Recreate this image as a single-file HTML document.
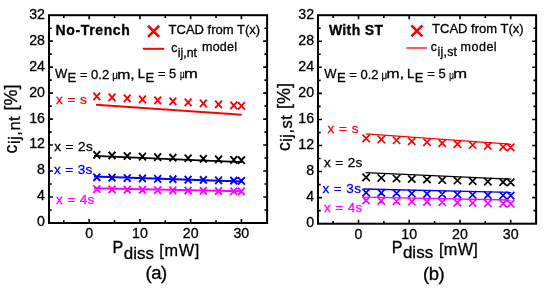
<!DOCTYPE html><html><head><meta charset="utf-8"><title>Coupling coefficient vs dissipated power</title><style>html,body{margin:0;padding:0;background:#fff;overflow:hidden}svg{display:block}</style></head><body>
<svg width="550" height="289" viewBox="0 0 550 289" font-family='"Liberation Sans", Arial, Helvetica, sans-serif' stroke-width="0.3">
<rect width="550" height="289" fill="#fff"/>
<rect x="49" y="15.2" width="218.1" height="207.8" fill="none" stroke="#000" stroke-width="2"/>
<path d="M49 210.01h2.7M267.1 210.01h-2.7M49 197.02h3.9M267.1 197.02h-3.9M49 184.04h2.7M267.1 184.04h-2.7M49 171.05h3.9M267.1 171.05h-3.9M49 158.06h2.7M267.1 158.06h-2.7M49 145.07h3.9M267.1 145.07h-3.9M49 132.08h2.7M267.1 132.08h-2.7M49 119.1h3.9M267.1 119.1h-3.9M49 106.11h2.7M267.1 106.11h-2.7M49 93.12h3.9M267.1 93.12h-3.9M49 80.13h2.7M267.1 80.13h-2.7M49 67.14h3.9M267.1 67.14h-3.9M49 54.16h2.7M267.1 54.16h-2.7M49 41.17h3.9M267.1 41.17h-3.9M49 28.18h2.7M267.1 28.18h-2.7M63.84 223v-2.7M63.84 15.2v2.7M89.2 223v-4M89.2 15.2v4M114.56 223v-2.7M114.56 15.2v2.7M139.93 223v-4M139.93 15.2v4M165.3 223v-2.7M165.3 15.2v2.7M190.66 223v-4M190.66 15.2v4M216.03 223v-2.7M216.03 15.2v2.7M241.39 223v-4M241.39 15.2v4" stroke="#000" stroke-width="1.6" fill="none"/>
<text x="45" y="226.4" text-anchor="end" font-size="14.2" stroke="#000">0</text>
<text x="45" y="200.42" text-anchor="end" font-size="14.2" stroke="#000">4</text>
<text x="45" y="174.45" text-anchor="end" font-size="14.2" stroke="#000">8</text>
<text x="45" y="148.47" text-anchor="end" font-size="14.2" stroke="#000">12</text>
<text x="45" y="122.5" text-anchor="end" font-size="14.2" stroke="#000">16</text>
<text x="45" y="96.52" text-anchor="end" font-size="14.2" stroke="#000">20</text>
<text x="45" y="70.54" text-anchor="end" font-size="14.2" stroke="#000">24</text>
<text x="45" y="44.57" text-anchor="end" font-size="14.2" stroke="#000">28</text>
<text x="45" y="18.59" text-anchor="end" font-size="14.2" stroke="#000">32</text>
<text x="89.2" y="238" text-anchor="middle" font-size="14.2" stroke="#000">0</text>
<text x="139.93" y="238" text-anchor="middle" font-size="14.2" stroke="#000">10</text>
<text x="190.66" y="238" text-anchor="middle" font-size="14.2" stroke="#000">20</text>
<text x="241.39" y="238" text-anchor="middle" font-size="14.2" stroke="#000">30</text>
<rect x="318" y="15.2" width="218.1" height="208.5" fill="none" stroke="#000" stroke-width="2"/>
<path d="M318 210.67h2.7M536.1 210.67h-2.7M318 197.64h3.9M536.1 197.64h-3.9M318 184.6h2.7M536.1 184.6h-2.7M318 171.57h3.9M536.1 171.57h-3.9M318 158.54h2.7M536.1 158.54h-2.7M318 145.51h3.9M536.1 145.51h-3.9M318 132.48h2.7M536.1 132.48h-2.7M318 119.44h3.9M536.1 119.44h-3.9M318 106.41h2.7M536.1 106.41h-2.7M318 93.38h3.9M536.1 93.38h-3.9M318 80.35h2.7M536.1 80.35h-2.7M318 67.32h3.9M536.1 67.32h-3.9M318 54.28h2.7M536.1 54.28h-2.7M318 41.25h3.9M536.1 41.25h-3.9M318 28.22h2.7M536.1 28.22h-2.7M333.13 223.7v-2.7M333.13 15.2v2.7M358.5 223.7v-4M358.5 15.2v4M383.87 223.7v-2.7M383.87 15.2v2.7M409.23 223.7v-4M409.23 15.2v4M434.6 223.7v-2.7M434.6 15.2v2.7M459.96 223.7v-4M459.96 15.2v4M485.33 223.7v-2.7M485.33 15.2v2.7M510.69 223.7v-4M510.69 15.2v4" stroke="#000" stroke-width="1.6" fill="none"/>
<text x="314.1" y="227.1" text-anchor="end" font-size="14.2" stroke="#000">0</text>
<text x="314.1" y="201.04" text-anchor="end" font-size="14.2" stroke="#000">4</text>
<text x="314.1" y="174.97" text-anchor="end" font-size="14.2" stroke="#000">8</text>
<text x="314.1" y="148.91" text-anchor="end" font-size="14.2" stroke="#000">12</text>
<text x="314.1" y="122.84" text-anchor="end" font-size="14.2" stroke="#000">16</text>
<text x="314.1" y="96.78" text-anchor="end" font-size="14.2" stroke="#000">20</text>
<text x="314.1" y="70.72" text-anchor="end" font-size="14.2" stroke="#000">24</text>
<text x="314.1" y="44.65" text-anchor="end" font-size="14.2" stroke="#000">28</text>
<text x="314.1" y="18.59" text-anchor="end" font-size="14.2" stroke="#000">32</text>
<text x="358.5" y="238.8" text-anchor="middle" font-size="14.2" stroke="#000">0</text>
<text x="409.23" y="238.8" text-anchor="middle" font-size="14.2" stroke="#000">10</text>
<text x="459.96" y="238.8" text-anchor="middle" font-size="14.2" stroke="#000">20</text>
<text x="510.69" y="238.8" text-anchor="middle" font-size="14.2" stroke="#000">30</text>
<line x1="96" y1="104.8" x2="241.8" y2="114.8" stroke="#ff0000" stroke-width="2.0"/>
<path d="M93.41 92.7L100.21 100.1M93.41 100.1L100.21 92.7M108.63 93.7L115.43 101.1M108.63 101.1L115.43 93.7M123.85 94.7L130.65 102.1M123.85 102.1L130.65 94.7M139.07 95.7L145.87 103.1M139.07 103.1L145.87 95.7M154.29 96.7L161.09 104.1M154.29 104.1L161.09 96.7M169.5 97.7L176.3 105.1M169.5 105.1L176.3 97.7M184.72 98.7L191.52 106.1M184.72 106.1L191.52 98.7M199.94 99.7L206.74 107.1M199.94 107.1L206.74 99.7M215.16 100.7L221.96 108.1M215.16 108.1L221.96 100.7M230.38 101.7L237.18 109.1M230.38 109.1L237.18 101.7M237.99 102.2L244.79 109.6M237.99 109.6L244.79 102.2" stroke="#ff0000" stroke-width="1.9" fill="none"/>
<line x1="94" y1="155.8" x2="241.8" y2="162.2" stroke="#000000" stroke-width="1.8"/>
<path d="M93.41 151.2L100.21 158.6M93.41 158.6L100.21 151.2M108.63 151.76L115.43 159.16M108.63 159.16L115.43 151.76M123.85 152.32L130.65 159.72M123.85 159.72L130.65 152.32M139.07 152.87L145.87 160.27M139.07 160.27L145.87 152.87M154.29 153.43L161.09 160.83M154.29 160.83L161.09 153.43M169.5 153.99L176.3 161.39M169.5 161.39L176.3 153.99M184.72 154.55L191.52 161.95M184.72 161.95L191.52 154.55M199.94 155.11L206.74 162.51M199.94 162.51L206.74 155.11M215.16 155.66L221.96 163.06M215.16 163.06L221.96 155.66M230.38 156.22L237.18 163.62M230.38 163.62L237.18 156.22M237.99 156.5L244.79 163.9M237.99 163.9L244.79 156.5" stroke="#000000" stroke-width="1.9" fill="none"/>
<line x1="94" y1="176.6" x2="241.8" y2="181.4" stroke="#0000ff" stroke-width="2.0"/>
<path d="M93.41 173.6L100.21 181M93.41 181L100.21 173.6M108.63 173.98L115.43 181.38M108.63 181.38L115.43 173.98M123.85 174.36L130.65 181.76M123.85 181.76L130.65 174.36M139.07 174.74L145.87 182.14M139.07 182.14L145.87 174.74M154.29 175.12L161.09 182.52M154.29 182.52L161.09 175.12M169.5 175.49L176.3 182.89M169.5 182.89L176.3 175.49M184.72 175.87L191.52 183.27M184.72 183.27L191.52 175.87M199.94 176.25L206.74 183.65M199.94 183.65L206.74 176.25M215.16 176.63L221.96 184.03M215.16 184.03L221.96 176.63M230.38 177.01L237.18 184.41M230.38 184.41L237.18 177.01M237.99 177.2L244.79 184.6M237.99 184.6L244.79 177.2" stroke="#0000ff" stroke-width="1.9" fill="none"/>
<line x1="94" y1="188.3" x2="241.8" y2="191.2" stroke="#ff00ff" stroke-width="2.0"/>
<path d="M93.41 185.4L100.21 192.8M93.41 192.8L100.21 185.4M108.63 185.64L115.43 193.04M108.63 193.04L115.43 185.64M123.85 185.88L130.65 193.28M123.85 193.28L130.65 185.88M139.07 186.13L145.87 193.53M139.07 193.53L145.87 186.13M154.29 186.37L161.09 193.77M154.29 193.77L161.09 186.37M169.5 186.61L176.3 194.01M169.5 194.01L176.3 186.61M184.72 186.85L191.52 194.25M184.72 194.25L191.52 186.85M199.94 187.09L206.74 194.49M199.94 194.49L206.74 187.09M215.16 187.34L221.96 194.74M215.16 194.74L221.96 187.34M230.38 187.58L237.18 194.98M230.38 194.98L237.18 187.58M237.99 187.7L244.79 195.1M237.99 195.1L244.79 187.7" stroke="#ff00ff" stroke-width="1.9" fill="none"/>
<line x1="365.8" y1="133.9" x2="511.2" y2="144.3" stroke="#ff0000" stroke-width="1.3"/>
<path d="M362.41 134.7L369.81 142.1M362.41 142.1L369.81 134.7M377.63 135.65L385.03 143.05M377.63 143.05L385.03 135.65M392.85 136.59L400.25 143.99M392.85 143.99L400.25 136.59M408.07 137.54L415.47 144.94M408.07 144.94L415.47 137.54M423.29 138.49L430.69 145.89M423.29 145.89L430.69 138.49M438.5 139.44L445.9 146.84M438.5 146.84L445.9 139.44M453.72 140.38L461.12 147.78M453.72 147.78L461.12 140.38M468.94 141.33L476.34 148.73M468.94 148.73L476.34 141.33M484.16 142.28L491.56 149.68M484.16 149.68L491.56 142.28M499.38 143.23L506.78 150.63M499.38 150.63L506.78 143.23M506.99 143.7L514.39 151.1M506.99 151.1L514.39 143.7" stroke="#ff0000" stroke-width="1.7" fill="none"/>
<line x1="365.5" y1="172.6" x2="511.2" y2="179.1" stroke="#000000" stroke-width="1.3"/>
<path d="M362.41 173.7L369.81 181.1M362.41 181.1L369.81 173.7M377.63 174.23L385.03 181.63M377.63 181.63L385.03 174.23M392.85 174.75L400.25 182.15M392.85 182.15L400.25 174.75M408.07 175.28L415.47 182.68M408.07 182.68L415.47 175.28M423.29 175.81L430.69 183.21M423.29 183.21L430.69 175.81M438.5 176.33L445.9 183.73M438.5 183.73L445.9 176.33M453.72 176.86L461.12 184.26M453.72 184.26L461.12 176.86M468.94 177.38L476.34 184.78M468.94 184.78L476.34 177.38M484.16 177.91L491.56 185.31M484.16 185.31L491.56 177.91M499.38 178.44L506.78 185.84M499.38 185.84L506.78 178.44M506.99 178.7L514.39 186.1M506.99 186.1L514.39 178.7" stroke="#000000" stroke-width="1.7" fill="none"/>
<line x1="363.5" y1="189" x2="511.2" y2="192.5" stroke="#0000ff" stroke-width="1.3"/>
<path d="M362.41 188.9L369.81 196.3M362.41 196.3L369.81 188.9M377.63 189.22L385.03 196.62M377.63 196.62L385.03 189.22M392.85 189.53L400.25 196.93M392.85 196.93L400.25 189.53M408.07 189.85L415.47 197.25M408.07 197.25L415.47 189.85M423.29 190.16L430.69 197.56M423.29 197.56L430.69 190.16M438.5 190.48L445.9 197.88M438.5 197.88L445.9 190.48M453.72 190.79L461.12 198.19M453.72 198.19L461.12 190.79M468.94 191.11L476.34 198.51M468.94 198.51L476.34 191.11M484.16 191.43L491.56 198.83M484.16 198.83L491.56 191.43M499.38 191.74L506.78 199.14M499.38 199.14L506.78 191.74M506.99 191.9L514.39 199.3M506.99 199.3L514.39 191.9" stroke="#0000ff" stroke-width="1.7" fill="none"/>
<line x1="363.5" y1="197.1" x2="511.2" y2="200" stroke="#ff00ff" stroke-width="1.3"/>
<path d="M362.41 196.8L369.81 204.2M362.41 204.2L369.81 196.8M377.63 197.15L385.03 204.55M377.63 204.55L385.03 197.15M392.85 197.49L400.25 204.89M392.85 204.89L400.25 197.49M408.07 197.84L415.47 205.24M408.07 205.24L415.47 197.84M423.29 198.19L430.69 205.59M423.29 205.59L430.69 198.19M438.5 198.54L445.9 205.94M438.5 205.94L445.9 198.54M453.72 198.88L461.12 206.28M453.72 206.28L461.12 198.88M468.94 199.23L476.34 206.63M468.94 206.63L476.34 199.23M484.16 199.58L491.56 206.98M484.16 206.98L491.56 199.58M499.38 199.93L506.78 207.33M499.38 207.33L506.78 199.93M506.99 200.1L514.39 207.5M506.99 207.5L514.39 200.1" stroke="#ff00ff" stroke-width="1.7" fill="none"/>
<path d="M148 25.75L159.2 36.95M148 36.95L159.2 25.75" stroke="#ff0000" stroke-width="2.6" fill="none"/>
<line x1="142.8" y1="48.8" x2="164.3" y2="48.8" stroke="#ff0000" stroke-width="2"/>
<path d="M411.4 25.3L422.4 36.3M411.4 36.3L422.4 25.3" stroke="#ff0000" stroke-width="2.6" fill="none"/>
<line x1="406.4" y1="48" x2="426.9" y2="48" stroke="#ff0000" stroke-width="1.3"/>
<text x="55.6" y="34.5" font-size="14" font-weight="bold" stroke="#000" textLength="74.17" lengthAdjust="spacing">No-Trench</text>
<text x="168.6" y="33.8" font-size="13" stroke="#000" textLength="91.48" lengthAdjust="spacing">TCAD from T(x)</text>
<text x="171.3" y="51.5" font-size="12.3" stroke="#000">c</text>
<text x="177.8" y="57" font-size="12.3" stroke="#000" textLength="19.14" lengthAdjust="spacing">ij,nt</text>
<text x="202" y="51.3" font-size="12.5" stroke="#000" textLength="35.05" lengthAdjust="spacing">model</text>
<text x="55" y="77.8" font-size="13" stroke="#000">W</text>
<text x="67.6" y="81.8" font-size="13" stroke="#000">E</text>
<text x="79.9" y="78.5" font-size="13" stroke="#000" textLength="29.28" lengthAdjust="spacing">= 0.2</text>
<text x="112.3" y="78.8" font-size="11.5" stroke="#000" textLength="5.64" lengthAdjust="spacingAndGlyphs">μ</text>
<text x="117.3" y="78.5" font-size="13" stroke="#000" textLength="17.45" lengthAdjust="spacingAndGlyphs">m,</text>
<text x="137.7" y="77.8" font-size="13" stroke="#000">L</text>
<text x="145.4" y="81.8" font-size="13" stroke="#000">E</text>
<text x="157.9" y="77.7" font-size="13" stroke="#000" textLength="18.44" lengthAdjust="spacing">= 5</text>
<text x="179.9" y="78.4" font-size="11.5" stroke="#000" textLength="4.64" lengthAdjust="spacingAndGlyphs">μ</text>
<text x="183.9" y="77.8" font-size="13" stroke="#000" textLength="13.84" lengthAdjust="spacingAndGlyphs">m</text>
<text x="55.9" y="103.8" font-size="13.5" fill="#ff0000" stroke="#ff0000" textLength="30.89" lengthAdjust="spacing">x = s</text>
<text x="54.3" y="150.8" font-size="13.5" stroke="#000" textLength="38.41" lengthAdjust="spacing">x = 2s</text>
<text x="53.9" y="174" font-size="13.5" fill="#0000ff" stroke="#0000ff" textLength="38.41" lengthAdjust="spacing">x = 3s</text>
<text x="55.9" y="203.8" font-size="13.5" fill="#ff00ff" stroke="#ff00ff" textLength="38.41" lengthAdjust="spacing">x = 4s</text>
<text x="112.6" y="252.7" font-size="16.2" stroke="#000">P</text>
<text x="123.7" y="259.3" font-size="17" stroke="#000" textLength="30.23" lengthAdjust="spacing">diss</text>
<text x="159.3" y="256" font-size="16.3" stroke="#000" textLength="39.98" lengthAdjust="spacing">[mW]</text>
<text x="145.6" y="279.4" font-size="18.5" stroke="#000" textLength="21.62" lengthAdjust="spacing">(a)</text>
<text transform="translate(17.1,153.5) rotate(-90)" font-size="17.5" stroke="#000">c</text>
<text transform="translate(19.6,144) rotate(-90)" font-size="16.5" stroke="#000" textLength="27.69" lengthAdjust="spacing">ij,nt</text>
<text transform="translate(16.9,110.4) rotate(-90)" font-size="18" stroke="#000" textLength="26.02" lengthAdjust="spacing">[%]</text>
<text x="328.9" y="34.8" font-size="14" font-weight="bold" stroke="#000" textLength="54.19" lengthAdjust="spacing">With ST</text>
<text x="432.1" y="33.2" font-size="13" stroke="#000" textLength="91.48" lengthAdjust="spacing">TCAD from T(x)</text>
<text x="430.8" y="51.4" font-size="12.3" stroke="#000">c</text>
<text x="437.5" y="56" font-size="12.3" stroke="#000" textLength="19.45" lengthAdjust="spacing">ij,st</text>
<text x="460.6" y="50.8" font-size="12.5" stroke="#000" textLength="36.05" lengthAdjust="spacing">model</text>
<text x="324.3" y="78.2" font-size="13" stroke="#000">W</text>
<text x="336.9" y="82.2" font-size="13" stroke="#000">E</text>
<text x="349.2" y="78.9" font-size="13" stroke="#000" textLength="29.28" lengthAdjust="spacing">= 0.2</text>
<text x="381.6" y="79.2" font-size="11.5" stroke="#000" textLength="5.64" lengthAdjust="spacingAndGlyphs">μ</text>
<text x="386.6" y="78.4" font-size="13" stroke="#000" textLength="17.45" lengthAdjust="spacingAndGlyphs">m,</text>
<text x="407" y="78.2" font-size="13" stroke="#000">L</text>
<text x="414.7" y="82.2" font-size="13" stroke="#000">E</text>
<text x="427.2" y="78.1" font-size="13" stroke="#000" textLength="18.44" lengthAdjust="spacing">= 5</text>
<text x="449.2" y="78.8" font-size="11.5" stroke="#000" textLength="4.64" lengthAdjust="spacingAndGlyphs">μ</text>
<text x="453.2" y="78.2" font-size="13" stroke="#000" textLength="13.84" lengthAdjust="spacingAndGlyphs">m</text>
<text x="327.5" y="133.2" font-size="13.5" fill="#ff0000" stroke="#ff0000" textLength="30.89" lengthAdjust="spacing">x = s</text>
<text x="323.9" y="166.8" font-size="13.5" stroke="#000" textLength="38.41" lengthAdjust="spacing">x = 2s</text>
<text x="322.5" y="193.4" font-size="13.5" fill="#0000ff" stroke="#0000ff" textLength="38.41" lengthAdjust="spacing">x = 3s</text>
<text x="323.9" y="212.4" font-size="13.5" fill="#ff00ff" stroke="#ff00ff" textLength="38.41" lengthAdjust="spacing">x = 4s</text>
<text x="391.8" y="252.8" font-size="16.2" stroke="#000">P</text>
<text x="402.9" y="258.4" font-size="17" stroke="#000" textLength="30.23" lengthAdjust="spacing">diss</text>
<text x="438.9" y="255.4" font-size="16.3" stroke="#000" textLength="38.98" lengthAdjust="spacing">[mW]</text>
<text x="423" y="279.6" font-size="18.5" stroke="#000" textLength="21.63" lengthAdjust="spacing">(b)</text>
<text transform="translate(290.3,151) rotate(-90)" font-size="17.5" stroke="#000">c</text>
<text transform="translate(291.7,141.8) rotate(-90)" font-size="16.5" stroke="#000" textLength="26.75" lengthAdjust="spacing">ij,st</text>
<text transform="translate(289.8,108.9) rotate(-90)" font-size="18" stroke="#000" textLength="26.02" lengthAdjust="spacing">[%]</text>
</svg></body></html>
